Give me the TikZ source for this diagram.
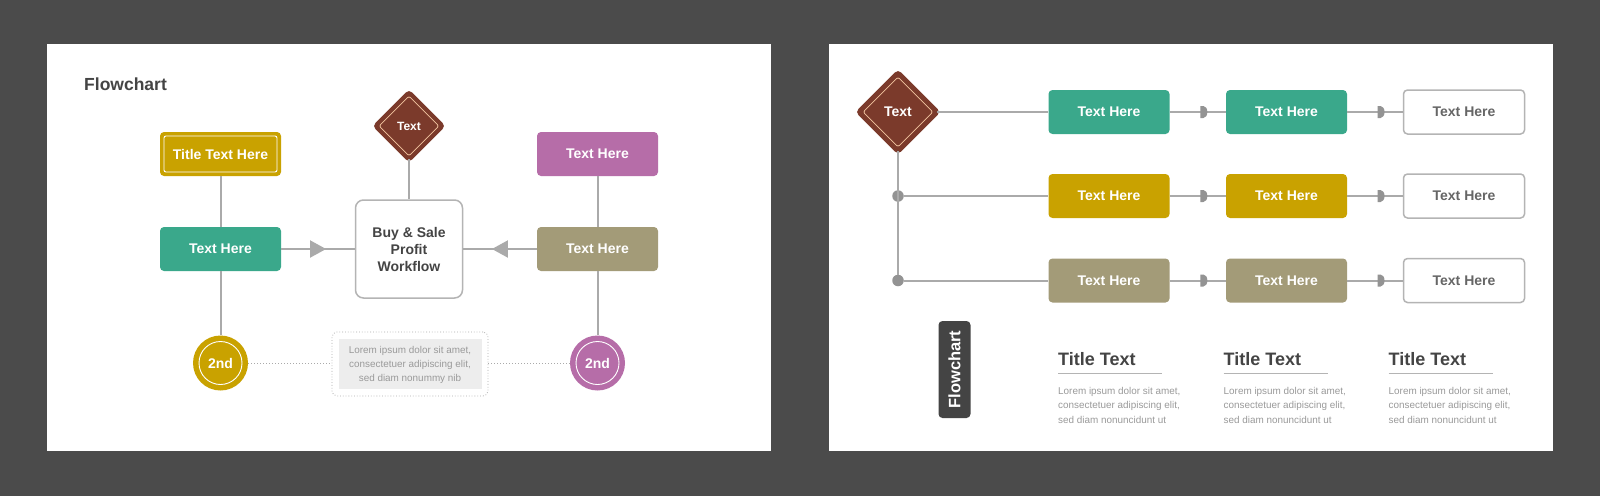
\documentclass[tikz,border=0pt]{standalone}
\usepackage{fontspec}
\setmainfont{Liberation Sans}
\usetikzlibrary{shapes.geometric}
\usetikzlibrary{positioning}
\usetikzlibrary{arrows.meta}
\usetikzlibrary{decorations.markings}
\definecolor{cback}{HTML}{4B4B4B}
\definecolor{cgold}{HTML}{C9A200}
\definecolor{cteal}{HTML}{3AA88B}
\definecolor{cpurp}{HTML}{B66DA8}
\definecolor{colive}{HTML}{A39B78}
\definecolor{cbrown}{HTML}{7B3A2B}
\definecolor{cpeach}{HTML}{F2C4A0}
\definecolor{cline}{HTML}{AAAAAA}
\definecolor{cbord}{HTML}{B4B4B4}
\definecolor{cdark}{HTML}{444444}
\definecolor{cgray}{HTML}{666666}
\definecolor{clorem}{HTML}{9A9A9A}
\definecolor{cfill}{HTML}{EDEDED}
\definecolor{cmark}{HTML}{939393}
\tikzset{
    cell/.style = {rectangle, rounded corners=4pt, minimum width=121pt, minimum height=44pt, inner sep=0pt, text=white, font=\bfseries\fontsize{14}{17}\selectfont},
    cellg/.style = {cell, fill=cgold},
    cellt/.style = {cell, fill=cteal},
    cellp/.style = {cell, fill=cpurp},
    cello/.style = {cell, fill=colive},
    cellw/.style = {cell, fill=white, draw=cbord, line width=1.5pt, text=cgray},
    cellin/.style = {rectangle, rounded corners=2pt, minimum width=113pt, minimum height=36pt, draw=white, line width=0.9pt},
    mydiam/.style = {diamond, aspect=1, rounded corners=4pt, fill=cbrown, inner sep=0pt, outer sep=-2.5pt, text=white, minimum width=#1, minimum height=#1, font=\bfseries\fontsize{14}{17}\selectfont},
    mydiamin/.style = {diamond, aspect=1, rounded corners=2pt, draw=cpeach, line width=0.8pt, inner sep=0pt, minimum width=#1, minimum height=#1},
    myring/.style = {circle, inner sep=0pt, minimum size=55pt, text=white, font=\bfseries\fontsize{14}{17}\selectfont},
    myringin/.style = {circle, inner sep=0pt, minimum size=43pt, draw=white, line width=0.9pt},
    mydot/.style = {circle, inner sep=0pt, minimum size=11.5pt, fill=cmark},
    workbox/.style = {rectangle, rounded corners=8pt, minimum width=107pt, minimum height=98pt, draw=cbord, line width=1.5pt, fill=white, align=center, text=cdark, font=\bfseries\fontsize{14}{17}\selectfont},
    tagbox/.style = {rectangle, rounded corners=4pt, minimum width=97pt, minimum height=32pt, fill=cdark, text=white, font=\bfseries\fontsize{16.5}{18}\selectfont},
    ttext/.style = {inner sep=0pt, text=cdark, font=\bfseries\fontsize{18}{20}\selectfont},
    ltext/.style = {inner sep=0pt, align=left, text=clorem, font=\fontsize{9.9}{14.5}\selectfont},
    rule/.style = {draw=cbord, line width=1pt},
    edgen/.style = {draw=cline, line width=2pt},
    edget/.style = {edgen, postaction={decorate}, decoration={markings, mark=at position 0.61 with {\arrow[cline]{Triangle[length=16pt,width=17pt]}}}},
    edgeh/.style = {edgen, postaction={decorate}, decoration={markings, mark=at position 0.6 with {\fill[cmark] (-3pt,-6pt) -- (0pt,-6pt) arc[start angle=-90, end angle=90, x radius=4pt, y radius=6pt] -- (-3pt,6pt) -- cycle;}}},
    edged/.style = {draw=cline, line width=1pt, dotted},
}
\begin{document}
\begin{tikzpicture}[x=1pt,y=-1pt]
\useasboundingbox (0,0) rectangle (1600,496);
\fill[cback] (0,0) rectangle (1600,496);
\fill[white] (47,44) rectangle (771,451);
\fill[white] (829,44) rectangle (1553,451);
%
% left panel
\node[ttext, font=\bfseries\fontsize{17.5}{20}\selectfont, anchor=base west] (head) at (84,90.7) {Flowchart};
\node[cellg] (ttl) at (220.5,154) {Title Text Here};
\node[cellin] (ttlin) at (ttl) {};
\node[cellt] (txl) at (220.5,249) {Text Here};
\node[myring, fill=cgold] (c2l) at (220.5,363) {2nd};
\node[myringin] (c2lin) at (c2l) {};
\node[mydiam=71pt, font=\bfseries\fontsize{12}{14}\selectfont] (dia) at (409,126) {Text};
\node[mydiamin=60pt] (diain) at (dia) {};
\node[workbox] (cen) at (409,249) {Buy \& Sale\\Profit\\Workflow};
\node[cellp] (txp) at (597.5,154) {Text Here};
\node[cello] (txo) at (597.5,249) {Text Here};
\node[myring, fill=cpurp] (c2r) at (597.5,363) {2nd};
\node[myringin] (c2rin) at (c2r) {};
\node[rectangle, rounded corners=5pt, minimum width=156pt, minimum height=64pt, draw=cline, line width=0.8pt, dotted] (lor) at (410,364) {};
\node[rectangle, minimum width=143pt, minimum height=50pt, fill=cfill] (lorin) at (lor) {};
\node[ltext, align=center, font=\fontsize{9.9}{14.2}\selectfont] (lortx) at (410,365) {Lorem ipsum dolor sit amet,\\consectetuer adipiscing elit,\\sed diam nonummy nib};
%
\draw[edgen] (ttl) -- (txl);
\draw[edgen] (txl) -- (c2l);
\draw[edgen] (dia) -- (cen);
\draw[edget] (txl) -- (cen);
\draw[edget] (txo) -- (cen);
\draw[edgen] (txp) -- (txo);
\draw[edgen] (txo) -- (c2r);
\draw[edged] (c2l) -- (c2l -| lor.west);
\draw[edged] (c2r) -- (c2r -| lor.east);
%
% right panel
\node[mydiam=83pt] (rdia) at (898,112) {Text};
\node[mydiamin=70pt] (rdiain) at (rdia) {};
\node[mydot] (dot2) at (898,196) {};
\node[mydot] (dot3) at (898,280.5) {};
\node[cellt] (r1c1) at (1109,112) {Text Here};
\node[cellt] (r1c2) at (1286.5,112) {Text Here};
\node[cellw] (r1c3) at (1464,112) {Text Here};
\node[cellg] (r2c1) at (1109,196) {Text Here};
\node[cellg] (r2c2) at (1286.5,196) {Text Here};
\node[cellw] (r2c3) at (1464,196) {Text Here};
\node[cello] (r3c1) at (1109,280.5) {Text Here};
\node[cello] (r3c2) at (1286.5,280.5) {Text Here};
\node[cellw] (r3c3) at (1464,280.5) {Text Here};
\node[tagbox, rotate=90] (tag) at (954.5,369.5) {Flowchart};
%
\draw[edgen] (rdia) -- (dot3);
\draw[edgen] (rdia) -- (r1c1);
\draw[edgen] (dot2) -- (r2c1);
\draw[edgen] (dot3) -- (r3c1);
\draw[edgeh] (r1c1) -- (r1c2);
\draw[edgeh] (r1c2) -- (r1c3);
\draw[edgeh] (r2c1) -- (r2c2);
\draw[edgeh] (r2c2) -- (r2c3);
\draw[edgeh] (r3c1) -- (r3c2);
\draw[edgeh] (r3c2) -- (r3c3);
%
\node[ttext, anchor=base west] (tt1) at (1058,365) {Title Text};
\node[ttext, anchor=base west] (tt2) at (1223.5,365) {Title Text};
\node[ttext, anchor=base west] (tt3) at (1388.5,365) {Title Text};
\draw[rule] (1058,373) -- (1162,373);
\draw[rule] (1223.5,373) -- (1327.5,373);
\draw[rule] (1388.5,373) -- (1492.5,373);
\node[ltext, anchor=north west] (lt1) at (1058,387) {Lorem ipsum dolor sit amet,\\consectetuer adipiscing elit,\\sed diam nonuncidunt ut};
\node[ltext, anchor=north west] (lt2) at (1223.5,387) {Lorem ipsum dolor sit amet,\\consectetuer adipiscing elit,\\sed diam nonuncidunt ut};
\node[ltext, anchor=north west] (lt3) at (1388.5,387) {Lorem ipsum dolor sit amet,\\consectetuer adipiscing elit,\\sed diam nonuncidunt ut};
\end{tikzpicture}
\end{document}
